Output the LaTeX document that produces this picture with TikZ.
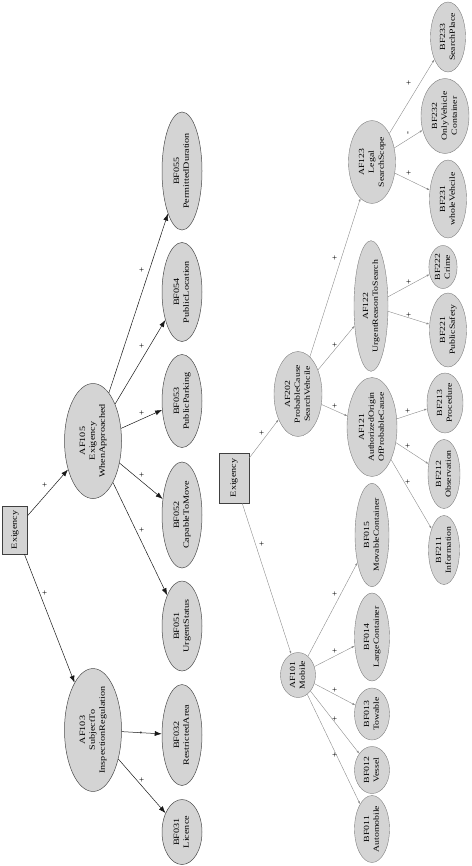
\documentclass[tikz,border=0pt]{standalone}
\usepackage{fontspec}
\setmainfont{Liberation Serif}
\usetikzlibrary{shapes.geometric,arrows.meta}
\newcommand\nt[1]{\scalebox{1}[0.8]{\begin{tabular}{@{}c@{}}#1\end{tabular}}}
\begin{document}
\begin{tikzpicture}[x=1bp,y=-1bp,
  base/.style={rotate=90, inner sep=0pt, fill=black!17, font=\fontsize{10.2}{12.5}\selectfont},
  el/.style={base, ellipse, draw=black!70, line width=0.5bp},
  elr/.style={base, ellipse, draw=black!50, line width=0.4bp, font=\fontsize{9.8}{12.5}\selectfont},
  bx/.style={base, rectangle, draw=black!75, line width=0.6bp},
  sz/.style 2 args={minimum width=#2 bp, minimum height=#1 bp},
  lab/.style={rotate=90, inner sep=0pt, font=\fontsize{9}{9}\selectfont},
  edl/.style={draw=black!90, line width=0.5bp, -{Latex[length=7bp,width=5bp]}},
  edr/.style={draw=black!45, line width=0.4bp, -{Latex[length=3bp,width=2bp]}}
]
\useasboundingbox (0,0) rectangle (472,866);
% ---------- left tree ----------
\node[bx, sz={25}{48}] (exl) at (15,530) {\nt{Exigency}};
\node[el, sz={57}{115}] (af105) at (93,441) {\nt{AF105\\Exigency\\WhenApproached}};
\node[el, sz={57}{121}] (af103) at (93,730) {\nt{AF103\\SubjectTo\\InspectionRegulation}};
\node[el, sz={40}{118}] (bf055) at (182,171) {\nt{BF055\\PermittedDuration}};
\node[el, sz={40}{99}] (bf054) at (182,292) {\nt{BF054\\PublicLocation}};
\node[el, sz={40}{93}] (bf053) at (182,401) {\nt{BF053\\PublicParking}};
\node[el, sz={40}{106}] (bf052) at (182,515) {\nt{BF052\\CapableToMove}};
\node[el, sz={40}{90}] (bf051) at (182,626) {\nt{BF051\\UrgentStatus}};
\node[el, sz={40}{101}] (bf032) at (182,735) {\nt{BF032\\RestrictedArea}};
\node[el, sz={40}{65}] (bf031) at (182,832) {\nt{BF031\\Licence}};
\draw[edl] (exl) -- (af105);
\draw[edl] (exl) -- (af103);
\draw[edl] (af105) -- (bf055);
\draw[edl] (af105) -- (bf054);
\draw[edl] (af105) -- (bf053);
\draw[edl] (af105) -- (bf052);
\draw[edl] (af105) -- (bf051);
\draw[edl] (af103) -- (bf032);
\draw[edl] (af103) -- (bf031);
\node[lab] (l1) at (45,485) {+};
\node[lab] (l2) at (45,593) {+};
\node[lab] (l3) at (142,270) {+};
\node[lab] (l4) at (142,346) {+};
\node[lab] (l5) at (142,413) {+};
\node[lab] (l6) at (142,475) {+};
\node[lab] (l7) at (142,530) {+};
\node[lab] (l8) at (142,733) {-};
\node[lab] (l9) at (142,780) {+};
% ---------- right tree ----------
\node[bx, sz={30}{50}] (exr) at (234,478) {\nt{Exigency}};
\node[elr, sz={48}{85}] (af202) at (298,394) {\nt{AF202\\ProbableCause\\SearchVehcile}};
\node[elr, sz={35}{45}] (af101) at (298,675) {\nt{AF101\\Mobile}};
\node[elr, sz={47}{83}] (af123) at (372,162) {\nt{AF123\\Legal\\SearchScope}};
\node[elr, sz={34}{128}] (af122) at (371,306) {\nt{AF122\\UrgentReasonToSearch}};
\node[elr, sz={50}{99}] (af121) at (372,427) {\nt{AF121\\AuthorizedOrigin\\OfProbableCause}};
\node[elr, sz={34}{103}] (bf015) at (372,535) {\nt{BF015\\MovableContainer}};
\node[elr, sz={35}{88}] (bf014) at (372,637) {\nt{BF014\\LargeContainer}};
\node[elr, sz={35}{52}] (bf013) at (372,714) {\nt{BF013\\Towable}};
\node[elr, sz={35}{47}] (bf012) at (372,770) {\nt{BF012\\Vessel}};
\node[elr, sz={35}{67}] (bf011) at (372,829) {\nt{BF011\\Automobile}};
\node[elr, sz={35}{70}] (bf233) at (448,37) {\nt{BF233\\SearchPlace}};
\node[elr, sz={48}{75}] (bf232) at (445,116) {\nt{BF232\\OnlyVehicle\\Container}};
\node[elr, sz={37}{78}] (bf231) at (448,199) {\nt{BF231\\wholeVehcile}};
\node[elr, sz={27}{43}] (bf222) at (443,267) {\nt{BF222\\Crime}};
\node[elr, sz={37}{74}] (bf221) at (448,330) {\nt{BF221\\PublicSafety}};
\node[elr, sz={36}{60}] (bf213) at (445,403) {\nt{BF213\\Procedure}};
\node[elr, sz={32}{69}] (bf212) at (444,474) {\nt{BF212\\Observation}};
\node[elr, sz={31}{69}] (bf211) at (444,550) {\nt{BF211\\Information}};
\draw[edr] (exr) -- (af202);
\draw[edr] (exr) -- (af101);
\draw[edr] (af202) -- (af123);
\draw[edr] (af202) -- (af122);
\draw[edr] (af202) -- (af121);
\draw[edr] (af123) -- (bf233);
\draw[edr] (af123) -- (bf232);
\draw[edr] (af123) -- (bf231);
\draw[edr] (af122) -- (bf222);
\draw[edr] (af122) -- (bf221);
\draw[edr] (af121) -- (bf213);
\draw[edr] (af121) -- (bf212);
\draw[edr] (af121) -- (bf211);
\draw[edr] (af101) -- (bf015);
\draw[edr] (af101) -- (bf014);
\draw[edr] (af101) -- (bf013);
\draw[edr] (af101) -- (bf012);
\draw[edr] (af101) -- (bf011);
\node[lab] (r1) at (262,433) {+};
\node[lab] (r2) at (262,544) {+};
\node[lab] (r3) at (335,406) {+};
\node[lab] (r4) at (335,345) {+};
\node[lab] (r5) at (335,258) {+};
\node[lab] (r6) at (409,83) {+};
\node[lab] (r7) at (409,133) {-};
\node[lab] (r8) at (409,173) {+};
\node[lab] (r9) at (409,282) {+};
\node[lab] (r10) at (409,315) {+};
\node[lab] (r11) at (408,411) {+};
\node[lab] (r12) at (408,446) {+};
\node[lab] (r13) at (408,482) {+};
\node[lab] (r14) at (335,594) {+};
\node[lab] (r15) at (335,651) {+};
\node[lab] (r16) at (335,690) {+};
\node[lab] (r17) at (335,719) {+};
\node[lab] (r18) at (335,755) {+};
\end{tikzpicture}
\end{document}
